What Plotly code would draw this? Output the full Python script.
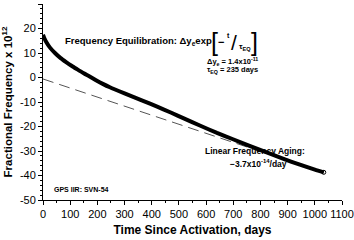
import plotly.graph_objects as go

# Measured fractional frequency (x 1e-12) vs time since activation (days)
days = [0, 5, 12, 25, 45, 65, 85, 105, 125, 150, 170, 195, 220, 246, 300,
        368, 420, 470, 520, 577, 640, 699, 760, 823, 885, 945, 1000, 1033]
freq = [17.5, 16.0, 14.5, 12.3, 9.9, 7.9, 6.3, 4.8, 3.4, 1.7, 0.5, -1.1, -2.6,
        -4.0, -6.5, -9.5, -11.9, -14.3, -16.8, -19.6, -22.6, -25.2, -27.9,
        -30.6, -33.2, -35.6, -37.6, -38.7]

# Linear aging fit line (dashed)
fit_days = [0, 1033]
fit_freq = [-0.6, -38.8]

x_ticks = [0, 100, 200, 300, 400, 500, 600, 700, 800, 900, 1000, 1100]
y_ticks = [30, 20, 10, 0, -10, -20, -30, -40, -50]

FONT = "Liberation Sans, Arial, sans-serif"

fig = go.Figure()
fig.add_trace(go.Scatter(x=fit_days, y=fit_freq, mode="lines",
                         line=dict(color="#555555", width=1, dash="11px,6px"),
                         showlegend=False, hoverinfo="skip"))
fig.add_trace(go.Scatter(x=days, y=freq, mode="lines",
                         line=dict(color="black", width=4, shape="spline", smoothing=0.6),
                         showlegend=False))
fig.add_trace(go.Scatter(x=[days[-1]], y=[freq[-1]], mode="markers",
                         marker=dict(symbol="circle-open", size=4, color="black",
                                     line=dict(width=1)),
                         showlegend=False))

axis_common = dict(showgrid=False, zeroline=False, showline=True,
                   linecolor="black", linewidth=1, ticks="outside",
                   ticklen=4, tickcolor="black", automargin=False,
                   tickfont=dict(family=FONT, size=11, color="black"))

fig.update_xaxes(range=[0, 1100], tickvals=x_ticks,
                 ticktext=[str(v) for v in x_ticks],
                 minor=dict(dtick=50, ticks="outside", ticklen=2, tickcolor="black"),
                 title=dict(text="<b>Time Since Activation, days</b>",
                            font=dict(family=FONT, size=12, color="black"),
                            standoff=6),
                 **axis_common)
fig.update_yaxes(range=[-50, 30], tickvals=y_ticks,
                 ticktext=[str(v) for v in y_ticks],
                 minor=dict(dtick=2, ticks="outside", ticklen=2, tickcolor="black"),
                 title=dict(text="<b>Fractional Frequency x 10<sup>12</sup></b>",
                            font=dict(family=FONT, size=11.5, color="black"),
                            standoff=6),
                 **axis_common)

ann = []
def add(text, x, y, size, xanchor="left", weight="bold"):
    ann.append(dict(text=text, x=x, y=y, xref="paper", yref="paper",
                    xanchor=xanchor, yanchor="middle", showarrow=False,
                    font=dict(family=FONT, size=size, color="black", weight=weight)))

# paper coords: plot area x 43..342 px, y 4..200 px
def px(xp):
    return (xp - 43) / (342 - 43)
def py(yp):
    return (200 - yp) / (200 - 4)

add("Frequency Equilibration: Δy<sub>e</sub>exp", px(63), py(41), 9.5)
add("[", px(209), py(42), 25, weight="normal")
add("−", px(216), py(42), 11)
add("t", px(225), py(35), 7)
add("/", px(229), py(42), 21, weight="normal")
add("τ<sub>EQ</sub>", px(237), py(47), 8)
add("]", px(249), py(42), 25, weight="normal")
add("Δy<sub>e</sub> = 1.4x10<sup>-11</sup>", px(205), py(61), 7.5)
add("τ<sub>EQ</sub> = 235 days", px(205), py(70), 7.5)
add("Linear Frequency Aging:", px(255), py(151), 8.5, xanchor="center")
add("−3.7x10<sup>-14</sup>/day", px(258), py(163), 8.5, xanchor="center")
add("GPS IIR: SVN-54", px(52), py(189), 7)

fig.update_layout(width=354, height=240,
                  margin=dict(l=43, r=12, t=4, b=40),
                  plot_bgcolor="white", paper_bgcolor="white",
                  annotations=ann, showlegend=False)

fig.write_html("out.html", config={"displayModeBar": False},
               post_script="document.body.style.margin='0';")
